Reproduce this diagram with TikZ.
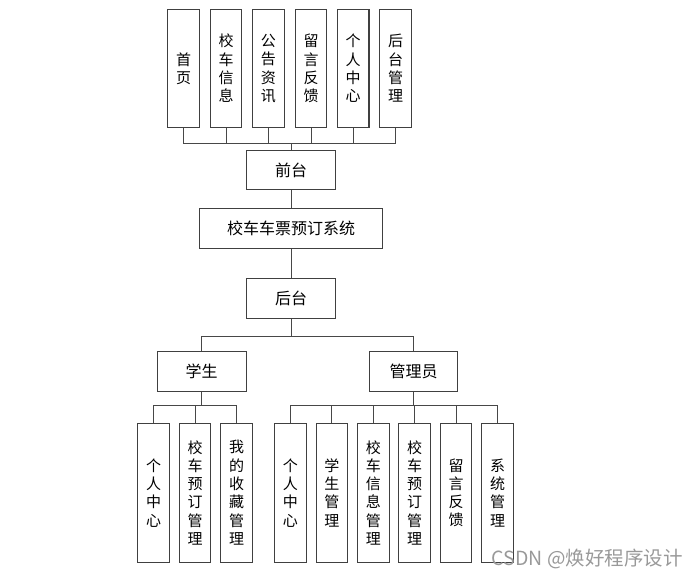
\documentclass[tikz,border=0pt]{standalone}
\usepackage{fontspec}
\newfontfamily\cjk{Noto Sans CJK SC}
\begin{document}
\begin{tikzpicture}[x=1pt,y=-1pt]
\tikzset{
 vbox/.style={draw=black!75, line width=1.1pt, minimum width=31.5pt, inner sep=0pt, align=center, font=\cjk\fontsize{15}{18.3}\selectfont},
 topv/.style={vbox, minimum height=118.4pt},
 botv/.style={vbox, minimum height=139pt},
 hbox/.style={draw=black!75, line width=1.1pt, minimum height=39.6pt, inner sep=0pt, font=\cjk\fontsize{16}{18}\selectfont},
 conn/.style={draw=black!72, line width=1pt},
}
\useasboundingbox (0,0) rectangle (699,578);
% top row
\node[topv] (t1) at (183.5,68.5) {首\\页};
\node[topv] (t2) at (226,68.5) {校\\车\\信\\息};
\node[topv] (t3) at (268.4,68.5) {公\\告\\资\\讯};
\node[topv] (t4) at (311,68.5) {留\\言\\反\\馈};
\node[topv] (t5) at (353.2,68.5) {个\\人\\中\\心};
\node[topv] (t6) at (395.5,68.5) {后\\台\\管\\理};
% middle
\node[hbox, minimum width=88.6pt] (front) at (291,170) {前台};
\node[hbox, minimum width=183.4pt] (sys) at (291,228.3) {校车车票预订系统};
\node[hbox, minimum width=88.6pt] (back) at (291,298.7) {后台};
\node[hbox, minimum width=88.7pt] (stu) at (201.7,371.5) {学生};
\node[hbox, minimum width=88pt] (adm) at (413.5,371.5) {管理员};
% bottom, student
\node[botv] (s1) at (153.5,492.8) {个\\人\\中\\心};
\node[botv] (s2) at (195,492.8) {校\\车\\预\\订\\管\\理};
\node[botv] (s3) at (236.5,492.8) {我\\的\\收\\藏\\管\\理};
% bottom, admin
\node[botv] (a1) at (290.3,492.8) {个\\人\\中\\心};
\node[botv] (a2) at (331.9,492.8) {学\\生\\管\\理};
\node[botv] (a3) at (373.3,492.8) {校\\车\\信\\息\\管\\理};
\node[botv] (a4) at (414.5,492.8) {校\\车\\预\\订\\管\\理};
\node[botv] (a5) at (456,492.8) {留\\言\\反\\馈};
\node[botv] (a6) at (497.5,492.8) {系\\统\\管\\理};
% buses
\coordinate (busT) at (291,143.3);
\coordinate (busB) at (291,336.7);
\coordinate (busS) at (201.7,405.5);
\coordinate (busA) at (413.5,405.5);
% connectors
\draw[conn] (front.north) -- (busT);
\foreach \i in {1,...,6} \draw[conn] (busT) -| (t\i.south);
\draw[conn] (front.south) -- (sys.north);
\draw[conn] (sys.south) -- (back.north);
\draw[conn] (back.south) -- (busB);
\draw[conn] (busB) -| (stu.north);
\draw[conn] (busB) -| (adm.north);
\draw[conn] (stu.south) -- (busS);
\foreach \i in {1,2,3} \draw[conn] (busS) -| (s\i.north);
\draw[conn] (adm.south) -- (busA);
\foreach \i in {1,...,6} \draw[conn] (busA) -| (a\i.north);
% watermark
\node[anchor=east, inner sep=0pt, text=black!40, font=\cjk\fontsize{19.5}{22}\selectfont] (wm) at (683,559) {CSDN @焕好程序设计};
\end{tikzpicture}
\end{document}
